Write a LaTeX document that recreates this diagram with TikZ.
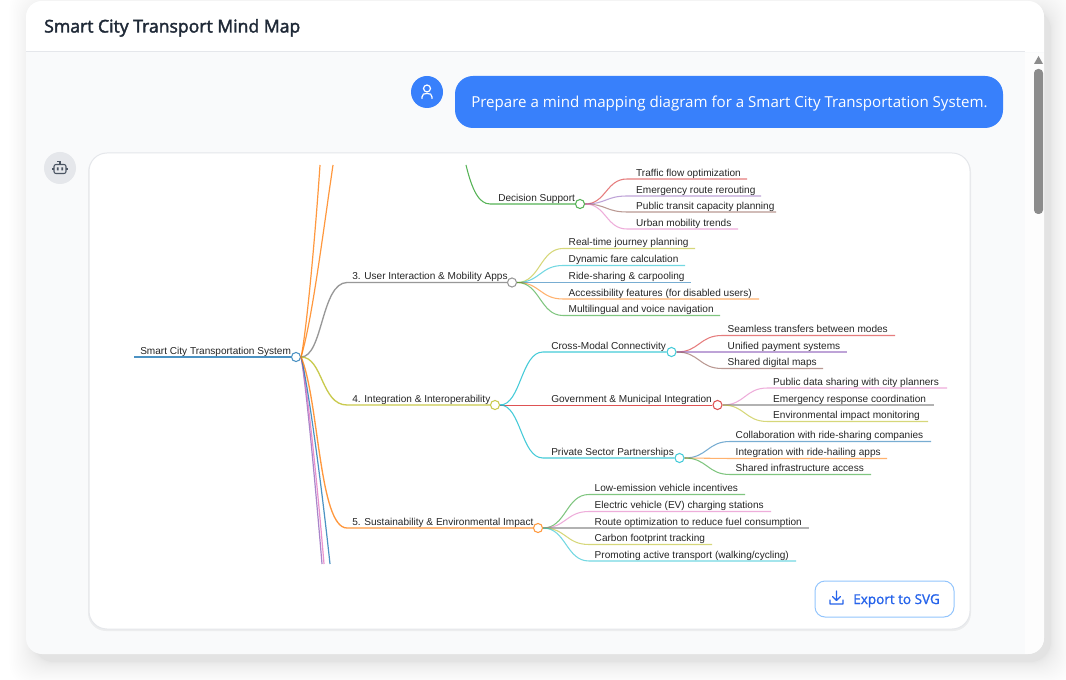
\documentclass[tikz,border=0pt]{standalone}
\usepackage{fontspec}
\usetikzlibrary{calc}
\setmainfont{Liberation Sans}
\newfontfamily\uifont{Open Sans}
\newfontfamily\uibold[FakeBold=2.2]{Open Sans}
\newfontfamily\uimed[FakeBold=1.2]{Open Sans}
\definecolor{cblue}{HTML}{1F77B4}
\definecolor{corange}{HTML}{FF7F0E}
\definecolor{cgreen}{HTML}{2CA02C}
\definecolor{cred}{HTML}{D62728}
\definecolor{cpurple}{HTML}{9467BD}
\definecolor{cbrown}{HTML}{8C564B}
\definecolor{cpink}{HTML}{E377C2}
\definecolor{cgrey}{HTML}{7F7F7F}
\definecolor{colive}{HTML}{BCBD22}
\definecolor{ccyan}{HTML}{17BECF}
\definecolor{uiblue}{HTML}{3880FB}
\definecolor{uiline}{HTML}{E5E7EB}
\definecolor{uibg}{HTML}{F9FAFB}
\definecolor{uidark}{HTML}{1F2937}
\definecolor{uigrey}{HTML}{4B5563}
\definecolor{btntext}{HTML}{2563EB}
\definecolor{btnline}{HTML}{93C5FD}
\tikzset{
  x=0.75pt,y=-0.75pt,
  maptext/.style={inner sep=0pt,anchor=base west,font=\fontsize{7.55}{9}\selectfont,text=black!85},
  dot/.style={circle,draw=#1!80,fill=white,line width=0.8pt,inner sep=0pt,minimum size=6.8pt},
  branch/.style={draw=#1,line width=1pt,opacity=.8},
  twig/.style={draw=#1,line width=0.8pt,opacity=.6},
}
% parent, id, start x, end x, y, colour, text
\newcommand\leaf[7]{%
  \coordinate (#2-s) at (#3,#5);
  \coordinate (#2-e) at (#4,#5);
  \coordinate (#2-m) at ($(#1.east)!.5!(#2-s)$);
  \node[maptext] (#2) at ([xshift=4.1pt,yshift=2pt]#2-s) {#7};
  \draw[twig=#6] (#1.east) .. controls (#2-m |- #1.east) and (#2-m |- #2-s) .. (#2-s) -- (#2-e);
}
% id, circle x, y, line start x, text x, colour, text
\newcommand\hub[7]{%
  \coordinate (#1-s) at (#4,#3);
  \node[dot=#6] (#1) at (#2,#3) {};
  \node[maptext] (#1-t) at ([yshift=2pt]#5,#3) {#7};
}
\begin{document}
\begin{tikzpicture}
\useasboundingbox (0,0) rectangle (1066,680);
% shadow of the window
\foreach \i in {1,...,28}{
  \fill[black,opacity=.0055,rounded corners=16pt]
    ({26+7-\i*\i*0.03},{1+8-\i*\i*0.03}) rectangle ({1044+7+\i*\i*0.03},{654+8+\i*\i*0.03});
}
% window
\fill[uibg,rounded corners=12pt] (26,1) rectangle (1044,654);
\begin{scope}
\clip[rounded corners=12pt] (26,1) rectangle (1044,654);
\fill[white] (26,1) rectangle (1044,52);
\fill[white!60!uibg] (1025,53) rectangle (1044,654);
\end{scope}
\draw[uiline,line width=.75pt] (26,52) -- (1025,52);
\node[anchor=base west,inner sep=0pt,text=uidark,font=\uibold\fontsize{13.2}{16}\selectfont] (title) at (44,32.5) {Smart City Transport Mind Map};
% scrollbar
\fill[gray!90] (1034,64) -- (1038.5,56) -- (1043,64) -- cycle;
\fill[black!45,rounded corners=3pt] (1034,69) rectangle (1043,214);
% user message
\node[circle,fill=uiblue,minimum size=24pt,inner sep=0pt] (user) at (427,92) {};
\draw[white,line width=.9pt] (427,88.5) circle (2.6pt);
\draw[white,line width=.9pt,line cap=round] (422,98.5) -- (422,97) .. controls (422,94) and (424,93.5) .. (427,93.5) .. controls (430,93.5) and (432,94) .. (432,97) -- (432,98.5);
\fill[uiblue,rounded corners=13.5pt] (455,76) rectangle (1003,128);
\node[anchor=base west,inner sep=0pt,text=white,font=\uifont\fontsize{11.33}{14}\selectfont] (prompt) at (471,108) {Prepare a mind mapping diagram for a Smart City Transportation System.};
% bot avatar
\node[circle,fill=uiline,minimum size=24pt,inner sep=0pt] (bot) at (60,168) {};
\draw[uigrey,line width=.8pt,rounded corners=1.5pt] (54,164.5) rectangle (66,173.5);
\draw[uigrey,line width=.8pt] (60,164.5) -- (60,161.5) -- (56.5,161.5);
\draw[uigrey,line width=.8pt] (52,169) -- (54,169) (66,169) -- (68,169);
\fill[uigrey] (56.8,167.5) rectangle (58.6,170.5) (61.4,167.5) rectangle (63.2,170.5);
% diagram card
\fill[black,opacity=.05,rounded corners=13.5pt] (88,154) rectangle (971,631);
\filldraw[fill=white,draw=uiline,line width=.75pt,rounded corners=13.5pt] (89,153) rectangle (970,629);
% export button
\filldraw[fill=white,draw=btnline,line width=.75pt,rounded corners=7.5pt] (815,581) rectangle (954,617);
\node[anchor=base west,inner sep=0pt,text=btntext,font=\uimed\fontsize{10.15}{12}\selectfont] (export) at (853,604) {Export to SVG};
\draw[btntext,line width=1pt,line cap=round,line join=round] (836.5,591) -- (836.5,600) (832.5,596.5) -- (836.5,600.5) -- (840.5,596.5) (830,600) -- (830,604) -- (843,604) -- (843,600);
% hubs of the map
\hub{root}{296}{357}{134}{140}{cblue}{Smart City Transportation System}
\hub{ui}{512}{282.5}{347}{352}{cgrey}{3. User Interaction \& Mobility Apps}
\hub{int}{495}{405}{347}{352}{colive}{4. Integration \& Interoperability}
\hub{sus}{538}{528}{347}{352}{corange}{5. Sustainability \& Environmental Impact}
\hub{dec}{580}{204}{490}{498}{cgreen}{Decision Support}
\hub{cm}{671.5}{352}{543}{551}{ccyan}{Cross-Modal Connectivity}
\hub{gov}{717.5}{405}{543}{551}{cred}{Government \& Municipal Integration}
\hub{priv}{679.5}{458}{543}{551}{ccyan}{Private Sector Partnerships}
\coordinate (upA) at (320,165);
\coordinate (upB) at (333,165);
\coordinate (upC) at (466,165);
\coordinate (downA) at (322,564);
\coordinate (downB) at (324,564);
\coordinate (downC) at (330,564);
% connectors of the first level
\draw[branch=cblue,line width=1.4pt] (root-s) -- (root.west);
\draw[branch=corange,line width=.9pt] (root.east) .. controls (306,335) and (315,240) .. (upA);
\draw[branch=corange,line width=.9pt] (root.east) .. controls (312,320) and (322,240) .. (upB);
\draw[branch=cgreen,line width=.8pt] (upC) .. controls (472,190) and (479,204) .. (dec-s) -- (dec.west);
\draw[branch=cpurple,line width=.9pt] (root.east) .. controls (306,385) and (315,480) .. (downA);
\draw[branch=cpink,line width=.9pt] (root.east) .. controls (307,385) and (317,480) .. (downB);
\draw[branch=cblue,line width=.9pt] (root.east) .. controls (308,385) and (321,480) .. (downC);
\draw[branch=cgrey] (root.east) .. controls (323,357) and (321,283) .. (ui-s) -- (ui.west);
\draw[branch=colive] (root.east) .. controls (323,357) and (321,405) .. (int-s) -- (int.west);
\draw[branch=corange] (root.east) .. controls (319,400) and (319,528) .. (sus-s) -- (sus.west);
% second level
\draw[branch=ccyan,line width=.8pt] (int.east) .. controls (521,405) and (521,352) .. (cm-s) -- (cm.west);
\draw[branch=cred,line width=.65pt] (int.east) -- (gov.west);
\draw[branch=ccyan,line width=.8pt] (int.east) .. controls (521,405) and (521,458) .. (priv-s) -- (priv.west);
% leaves
\leaf{dec}{d1}{627}{747}{179}{cred}{\hspace{2.6pt}Traffic flow optimization}
\leaf{dec}{d2}{627}{761}{196}{cpurple}{\hspace{2.6pt}Emergency route rerouting}
\leaf{dec}{d3}{627}{776}{212}{cbrown}{\hspace{2.6pt}Public transit capacity planning}
\leaf{dec}{d4}{627}{738}{229}{cpink}{\hspace{2.6pt}Urban mobility trends}
\leaf{ui}{u1}{563}{695}{248.5}{colive}{Real-time journey planning}
\leaf{ui}{u2}{563}{685}{265.5}{ccyan}{Dynamic fare calculation}
\leaf{ui}{u3}{563}{691}{282.5}{cblue}{Ride-sharing \& carpooling}
\leaf{ui}{u4}{563}{759}{299}{corange}{Accessibility features (for disabled users)}
\leaf{ui}{u5}{563}{720}{315.5}{cgreen}{Multilingual and voice navigation}
\leaf{cm}{c1}{722}{895}{335.5}{cred}{Seamless transfers between modes}
\leaf{cm}{c2}{722}{847}{352}{cpurple}{Unified payment systems}
\leaf{cm}{c3}{722}{823}{368.5}{cbrown}{Shared digital maps}
\leaf{gov}{g1}{767.5}{947}{388}{cpink}{Public data sharing with city planners}
\leaf{gov}{g2}{767.5}{934}{405}{cgrey}{Emergency response coordination}
\leaf{gov}{g3}{767.5}{928}{421.5}{colive}{Environmental impact monitoring}
\leaf{priv}{p1}{730}{931}{441.5}{cblue}{Collaboration with ride-sharing companies}
\leaf{priv}{p2}{730}{887}{458.5}{corange}{Integration with ride-hailing apps}
\leaf{priv}{p3}{730}{871}{474.5}{cgreen}{Shared infrastructure access}
\leaf{sus}{s1}{589}{745}{494.5}{cgreen}{Low-emission vehicle incentives}
\leaf{sus}{s2}{589}{771}{511.5}{cpink}{Electric vehicle (EV) charging stations}
\leaf{sus}{s3}{589}{809}{528}{cgrey}{Route optimization to reduce fuel consumption}
\leaf{sus}{s4}{589}{712}{544.5}{colive}{Carbon footprint tracking}
\leaf{sus}{s5}{589}{796}{561}{ccyan}{Promoting active transport (walking/cycling)}
\end{tikzpicture}
\end{document}
